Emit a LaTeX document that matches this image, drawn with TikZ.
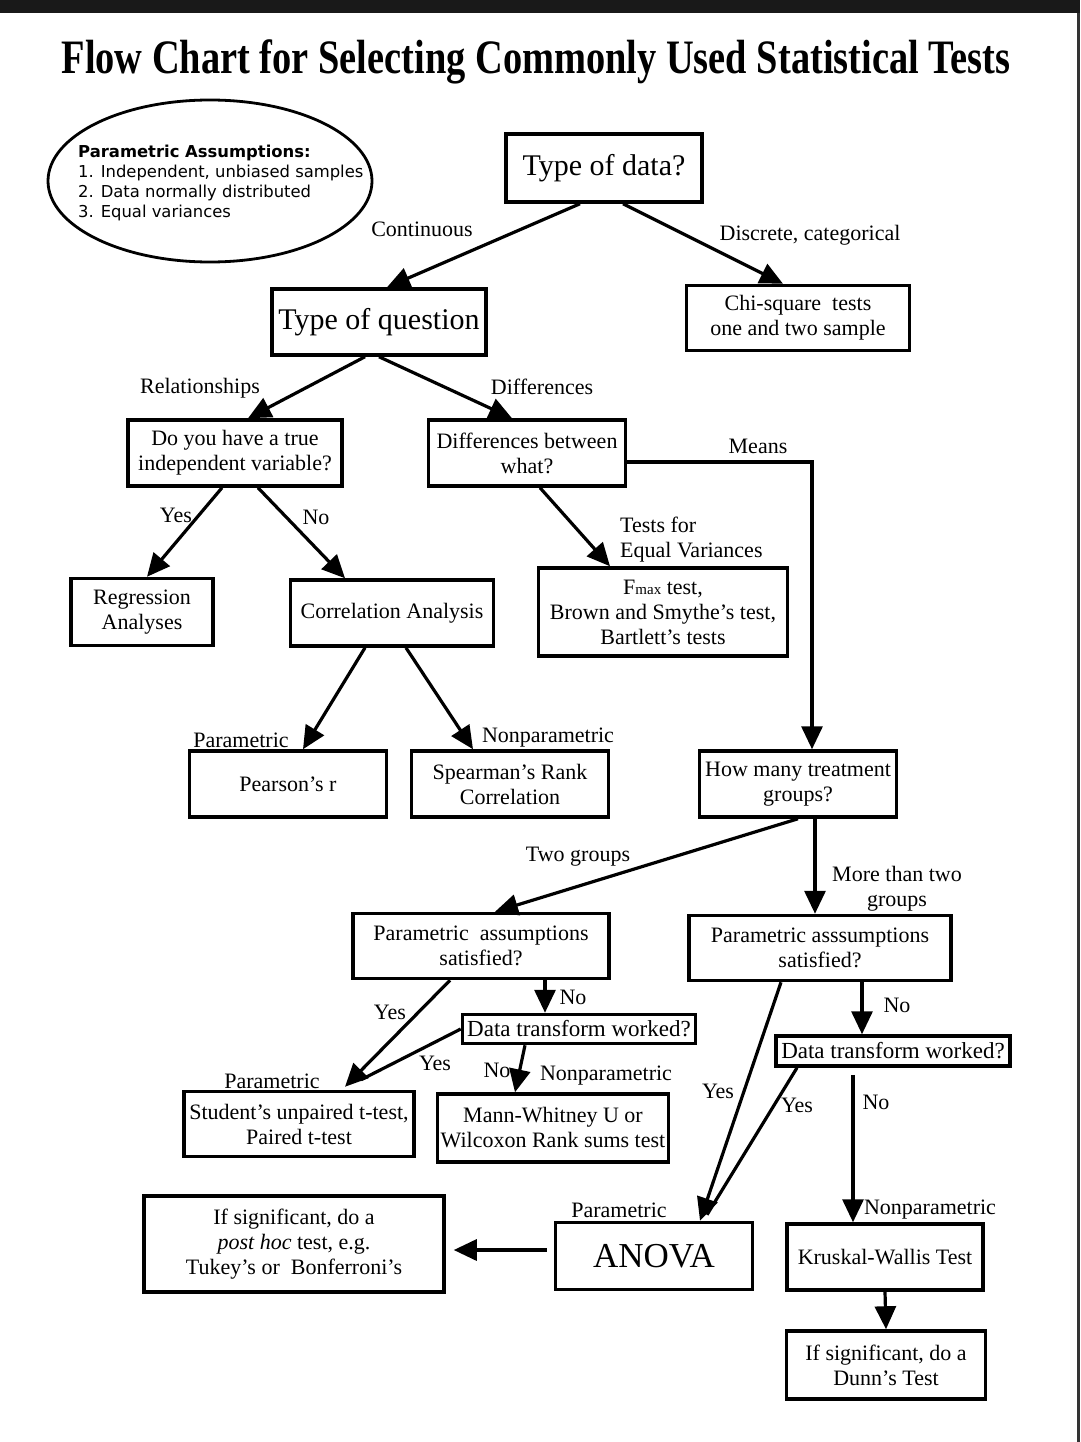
\documentclass[tikz,border=0pt]{standalone}
\usepackage{fontspec}
\setmainfont{Liberation Serif}
\newfontfamily\assumfont{DejaVu Sans}
\usetikzlibrary{arrows.meta}
\usetikzlibrary{positioning}
\usetikzlibrary{shapes.geometric}

\begin{document}
\begin{tikzpicture}[x=1pt, y=-1pt,
    every node/.style={font=\fontsize{22}{25}\selectfont},
    box/.style={draw, line width=3.5pt, align=center, inner sep=1pt},
    lbl/.style={inner sep=1pt, align=center},
    arr/.style={line width=3.2pt, -{Triangle[length=23pt,width=21pt]}},
    con/.style={line width=3.2pt}]
            % frame
            \useasboundingbox (0,0) rectangle (1080,1442);
            \fill[white] (0,0) rectangle (1080,1442);
            \fill[black!90] (0,0) rectangle (1080,13);
            \fill[black!80] (1077,13) rectangle (1080,1442);

            % title
            \node (title) at (536,62) {\scalebox{0.8}[1]{\fontsize{48}{54}\selectfont\bfseries Flow Chart for Selecting Commonly Used Statistical Tests}};

            % assumptions
            \node[ellipse, draw, line width=2.8pt, minimum width=324pt, minimum height=162pt] (assump) at (210,181) {};
            \node[anchor=west, align=left, inner sep=0pt, font=\assumfont\fontsize{16.4}{20}\selectfont] (assumtext) at (78,183)
                {\textbf{Parametric Assumptions:}\\1. Independent, unbiased samples\\2. Data normally distributed\\3. Equal variances};

            % boxes
            \node[box, minimum width=196pt, minimum height=68pt, font=\fontsize{30}{34}\selectfont] (data) at (604,168) {Type of data?};
            \node[box, minimum width=214pt, minimum height=66pt, font=\fontsize{30}{34}\selectfont] (question) at (379,322) {Type of question};
            \node[box, minimum width=223pt, minimum height=65pt] (chi) at (798,318) {Chi-square~ tests\\one and two sample};
            \node[box, minimum width=214pt, minimum height=66pt] (indep) at (235,453) {Do you have a true\\independent variable?};
            \node[box, minimum width=197pt, minimum height=66pt] (diff) at (527,453) {Differences between\\what?};
            \node[box, minimum width=142pt, minimum height=67pt] (regr) at (142,612) {Regression\\Analyses};
            \node[box, minimum width=203pt, minimum height=66pt] (corr) at (392,613) {Correlation Analysis};
            \node[box, minimum width=249pt, minimum height=88pt] (fmax) at (663,612)
                {F{\fontsize{15}{15}\selectfont max} test,\\Brown and Smythe's test,\\Bartlett's tests};
            \node[box, minimum width=197pt, minimum height=66pt] (pearson) at (288,784) {Pearson's r};
            \node[box, minimum width=197pt, minimum height=66pt] (spearman) at (510,784) {Spearman's Rank\\Correlation};
            \node[box, minimum width=197pt, minimum height=66pt] (howmany) at (798,784) {How many treatment\\groups?};
            \node[box, minimum width=256pt, minimum height=65pt] (paramL) at (481,946) {Parametric~ assumptions\\satisfied?};
            \node[box, minimum width=262pt, minimum height=65pt] (paramR) at (820,948) {Parametric asssumptions\\satisfied?};
            \node[box, minimum width=233pt, minimum height=29pt, inner sep=0pt, font=\fontsize{23}{25}\selectfont] (dtwL) at (579,1029) {Data transform worked?};
            \node[box, minimum width=234pt, minimum height=30pt, inner sep=0pt, font=\fontsize{23}{25}\selectfont] (dtwR) at (893,1051) {Data transform worked?};
            \node[box, minimum width=230pt, minimum height=65pt] (student) at (299,1124) {Student's unpaired t-test,\\Paired t-test};
            \node[box, minimum width=231pt, minimum height=68pt] (mann) at (553,1128) {Mann-Whitney U or\\Wilcoxon Rank sums test};
            \node[box, minimum width=300pt, minimum height=96pt] (posthoc) at (294,1244)
                {If significant, do a\\\textit{post hoc} test, e.g.\\Tukey's or~ Bonferroni's};
            \node[box, minimum width=197pt, minimum height=67pt, font=\fontsize{35}{38}\selectfont] (anova) at (654,1256) {ANOVA};
            \node[box, minimum width=196pt, minimum height=66pt] (kruskal) at (885,1257) {Kruskal-Wallis Test};
            \node[box, minimum width=199pt, minimum height=68pt] (dunn) at (886,1365) {If significant, do a\\Dunn's Test};

            % labels
            \node[lbl] (lcont) at (422,229) {Continuous};
            \node[lbl] (ldisc) at (810,235) {Discrete, categorical};
            \node[lbl] (lrel) at (200,388) {Relationships};
            \node[lbl] (ldiff) at (542,387) {Differences};
            \node[lbl] (lmeans) at (758,446) {Means};
            \node[lbl] (lyes1) at (176,515) {Yes};
            \node[lbl] (lno1) at (316,517) {No};
            \node[lbl, anchor=west, align=left] (lequal) at (619,540) {Tests for\\Equal Variances};
            \node[lbl] (lpar1) at (241,740) {Parametric};
            \node[lbl] (lnon1) at (548,738) {Nonparametric};
            \node[lbl] (ltwo) at (578,857) {Two groups};
            \node[lbl] (lmore) at (897,889) {More than two\\groups};
            \node[lbl] (lyes2) at (390,1012) {Yes};
            \node[lbl] (lno2) at (573,997) {No};
            \node[lbl] (lyes3) at (435,1063) {Yes};
            \node[lbl] (lno3) at (497,1070) {No};
            \node[lbl] (lnon2) at (606,1076) {Nonparametric};
            \node[lbl] (lpar2) at (272,1081) {Parametric};
            \node[lbl] (lyes4) at (718,1091) {Yes};
            \node[lbl] (lno4) at (897,1005) {No};
            \node[lbl] (lyes5) at (797,1105) {Yes};
            \node[lbl] (lno5) at (876,1102) {No};
            \node[lbl] (lpar3) at (619,1210) {Parametric};
            \node[lbl] (lnon3) at (930,1210) {Nonparametric};

            % arrows
            \draw[arr] ([xshift=-24pt]data.south) -- ([xshift=8pt]question.north);
            \draw[arr] ([xshift=19pt]data.south) -- ([xshift=-15pt]chi.north);
            \draw[arr] ([xshift=-14pt]question.south) -- ([xshift=13pt]indep.north);
            \draw[arr] (question.south) -- ([xshift=-15pt]diff.north);
            \draw[arr] ([xshift=-13pt]indep.south) -- ([xshift=5pt]regr.north);
            \draw[arr] ([xshift=23pt]indep.south) -- ([xshift=-47pt]corr.north);
            \draw[arr] ([xshift=13pt]diff.south) -- ([xshift=-53pt]fmax.north);
            \draw[arr] ([yshift=-9pt]diff.east) -| ([xshift=14pt]howmany.north);
            \draw[arr] ([xshift=-27pt]corr.south) -- ([xshift=15pt]pearson.north);
            \draw[arr] ([xshift=14pt]corr.south) -- ([xshift=-37pt]spearman.north);
            \draw[arr] (howmany.south) -- ([xshift=14pt]paramL.north);
            \draw[arr] ([xshift=17pt]howmany.south) -- ([xshift=-5pt]paramR.north);
            \draw[arr] ([xshift=-31pt]paramL.south) -- ([xshift=46pt,yshift=3pt]student.north);
            \draw[con] (dtwL.west) -- ([xshift=62pt,yshift=10pt]student.north);
            \draw[arr] ([xshift=64pt]paramL.south) -- ([xshift=-34pt]dtwL.north);
            \draw[arr] ([xshift=-54pt]dtwL.south) -- ([xshift=-38pt]mann.north);
            \draw[arr] ([xshift=-39pt]paramR.south) -- ([xshift=46pt]anova.north);
            \draw[con] ([xshift=-96pt]dtwR.south) -- ([xshift=53pt,yshift=6pt]anova.north);
            \draw[arr] ([xshift=42pt]paramR.south) -- ([xshift=-31pt]dtwR.north);
            \draw[arr] ([xshift=-40pt,yshift=-7pt]dtwR.south) -- ([xshift=-32pt]kruskal.north);
            \draw[arr] ([xshift=-7pt,yshift=6pt]anova.west) -- ([xshift=8pt,yshift=-6pt]posthoc.east);
            \draw[arr] (kruskal.south) -- (dunn.north);
\end{tikzpicture}
\end{document}
